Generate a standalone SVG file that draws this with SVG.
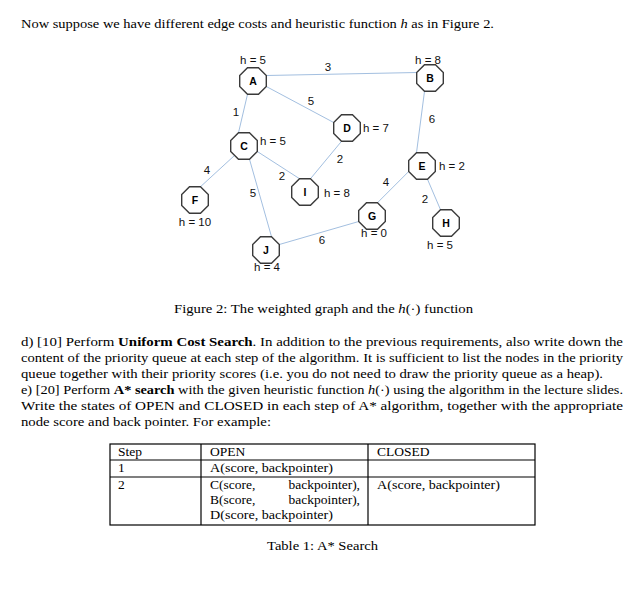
<svg xmlns="http://www.w3.org/2000/svg" xmlns:xlink="http://www.w3.org/1999/xlink" width="640" height="604" viewBox="0 0 640 604">
<style>
.bg{fill:#fff}
.edge{stroke:#a3bfe0;stroke-width:1;fill:none}
.node{fill:#fff;stroke:#3a3a3a;stroke-width:1.4}
.nl{font-family:"Liberation Sans",Arial,sans-serif;font-weight:bold;font-size:10.5px;text-anchor:middle;fill:#000}
.hl{font-family:"Liberation Sans",Arial,sans-serif;font-size:11.5px;fill:#111}
.el{font-family:"Liberation Sans",Arial,sans-serif;font-size:11.5px;text-anchor:middle;fill:#111}
.tx{font-family:"Liberation Serif","Times New Roman",serif;font-size:13.5px;fill:#000}
.b{font-weight:bold}
.i{font-style:italic}
.tb{stroke:#000;stroke-width:1.2;fill:none}
</style>
<defs>
<polygon id="oct" points="5.5,-13.3 13.3,-5.5 13.3,5.5 5.5,13.3 -5.5,13.3 -13.3,5.5 -13.3,-5.5 -5.5,-13.3"/>
</defs>
<rect class="bg" x="0" y="0" width="640" height="604"/>

<text class="tx" x="21" y="28" textLength="473" lengthAdjust="spacingAndGlyphs">Now suppose we have different edge costs and heuristic function <tspan class="i">h</tspan> as in Figure 2.</text>

<g id="connectors">
<line class="edge" x1="266.3" y1="75.5" x2="416.7" y2="72.5"/>
<line class="edge" x1="266.3" y1="86.5" x2="333.7" y2="122.5"/>
<line class="edge" x1="247.5" y1="94.3" x2="238.5" y2="132.7"/>
<line class="edge" x1="424.5" y1="91.3" x2="416.5" y2="152.7"/>
<line class="edge" x1="234.6" y1="155.4" x2="200.5" y2="186.7"/>
<line class="edge" x1="257.3" y1="151.5" x2="299.5" y2="178.7"/>
<line class="edge" x1="249.5" y1="159.3" x2="271.5" y2="236.7"/>
<line class="edge" x1="341.5" y1="141.3" x2="310.5" y2="178.7"/>
<line class="edge" x1="279.3" y1="244.5" x2="358.7" y2="221.5"/>
<line class="edge" x1="377.5" y1="202.7" x2="408.7" y2="171.5"/>
<line class="edge" x1="427.5" y1="179.3" x2="440.5" y2="209.7"/>
<text class="el" x="328" y="71">3</text>
<text class="el" x="311" y="105">5</text>
<text class="el" x="236" y="116">1</text>
<text class="el" x="432" y="123">6</text>
<text class="el" x="207" y="174">4</text>
<text class="el" x="282" y="180">2</text>
<text class="el" x="253" y="197">5</text>
<text class="el" x="340" y="163">2</text>
<text class="el" x="386" y="186">4</text>
<text class="el" x="425" y="203">2</text>
<text class="el" x="322" y="244">6</text>
</g>

<g id="node-A"><use xlink:href="#oct" class="node" x="253" y="81"/><text class="nl" x="253" y="85">A</text><text class="hl" x="253" y="64" text-anchor="middle">h = 5</text></g>
<g id="node-B"><use xlink:href="#oct" class="node" x="430" y="78"/><text class="nl" x="430" y="82">B</text><text class="hl" x="428" y="64" text-anchor="middle">h = 8</text></g>
<g id="node-C"><use xlink:href="#oct" class="node" x="244" y="146"/><text class="nl" x="244" y="150">C</text><text class="hl" x="260" y="145">h = 5</text></g>
<g id="node-D"><use xlink:href="#oct" class="node" x="347" y="128"/><text class="nl" x="347" y="132">D</text><text class="hl" x="363" y="132">h = 7</text></g>
<g id="node-E"><use xlink:href="#oct" class="node" x="422" y="166"/><text class="nl" x="422" y="170">E</text><text class="hl" x="439" y="170">h = 2</text></g>
<g id="node-F"><use xlink:href="#oct" class="node" x="195" y="200"/><text class="nl" x="195" y="204">F</text><text class="hl" x="195" y="226" text-anchor="middle">h = 10</text></g>
<g id="node-I"><use xlink:href="#oct" class="node" x="305" y="192"/><text class="nl" x="305" y="196">I</text><text class="hl" x="324" y="197">h = 8</text></g>
<g id="node-G"><use xlink:href="#oct" class="node" x="372" y="216"/><text class="nl" x="372" y="220">G</text><text class="hl" x="374" y="237" text-anchor="middle">h = 0</text></g>
<g id="node-H"><use xlink:href="#oct" class="node" x="446" y="223"/><text class="nl" x="446" y="227">H</text><text class="hl" x="440" y="249" text-anchor="middle">h = 5</text></g>
<g id="node-J"><use xlink:href="#oct" class="node" x="266" y="250"/><text class="nl" x="266" y="254">J</text><text class="hl" x="267" y="271" text-anchor="middle">h = 4</text></g>

<text class="tx" x="174" y="313" textLength="299" lengthAdjust="spacingAndGlyphs">Figure 2: The weighted graph and the <tspan class="i">h</tspan>(·) function</text>

<text class="tx" x="21" y="346" textLength="602" lengthAdjust="spacingAndGlyphs">d) [10] Perform <tspan class="b">Uniform Cost Search</tspan>. In addition to the previous requirements, also write down the</text>
<text class="tx" x="21" y="362" textLength="602" lengthAdjust="spacingAndGlyphs">content of the priority queue at each step of the algorithm. It is sufficient to list the nodes in the priority</text>
<text class="tx" x="21" y="378" textLength="582" lengthAdjust="spacingAndGlyphs">queue together with their priority scores (i.e. you do not need to draw the priority queue as a heap).</text>
<text class="tx" x="21" y="394" textLength="602" lengthAdjust="spacingAndGlyphs">e) [20] Perform <tspan class="b">A* search</tspan> with the given heuristic function <tspan class="i">h</tspan>(·) using the algorithm in the lecture slides.</text>
<text class="tx" x="21" y="410" textLength="602" lengthAdjust="spacingAndGlyphs">Write the states of OPEN and CLOSED in each step of A* algorithm, together with the appropriate</text>
<text class="tx" x="21" y="426" textLength="250" lengthAdjust="spacingAndGlyphs">node score and back pointer. For example:</text>

<g id="table">
<rect class="tb" x="110" y="444" width="425" height="81"/>
<line class="tb" x1="110" y1="460" x2="535" y2="460"/>
<line class="tb" x1="110" y1="477" x2="535" y2="477"/>
<line class="tb" x1="201" y1="444" x2="201" y2="525"/>
<line class="tb" x1="368" y1="444" x2="368" y2="525"/>
<text class="tx" x="118" y="456">Step</text>
<text class="tx" x="210" y="456">OPEN</text>
<text class="tx" x="377" y="456">CLOSED</text>
<text class="tx" x="118" y="472">1</text>
<text class="tx" x="210" y="472" textLength="123" lengthAdjust="spacingAndGlyphs">A(score, backpointer)</text>
<text class="tx" x="118" y="489">2</text>
<text class="tx" x="210" y="489">C(score,</text>
<text class="tx" x="360" y="489" text-anchor="end">backpointer),</text>
<text class="tx" x="210" y="504">B(score,</text>
<text class="tx" x="360" y="504" text-anchor="end">backpointer),</text>
<text class="tx" x="210" y="519" textLength="123" lengthAdjust="spacingAndGlyphs">D(score, backpointer)</text>
<text class="tx" x="377" y="489" textLength="123" lengthAdjust="spacingAndGlyphs">A(score, backpointer)</text>
</g>

<text class="tx" x="267" y="550" textLength="111" lengthAdjust="spacingAndGlyphs">Table 1: A* Search</text>
</svg>
